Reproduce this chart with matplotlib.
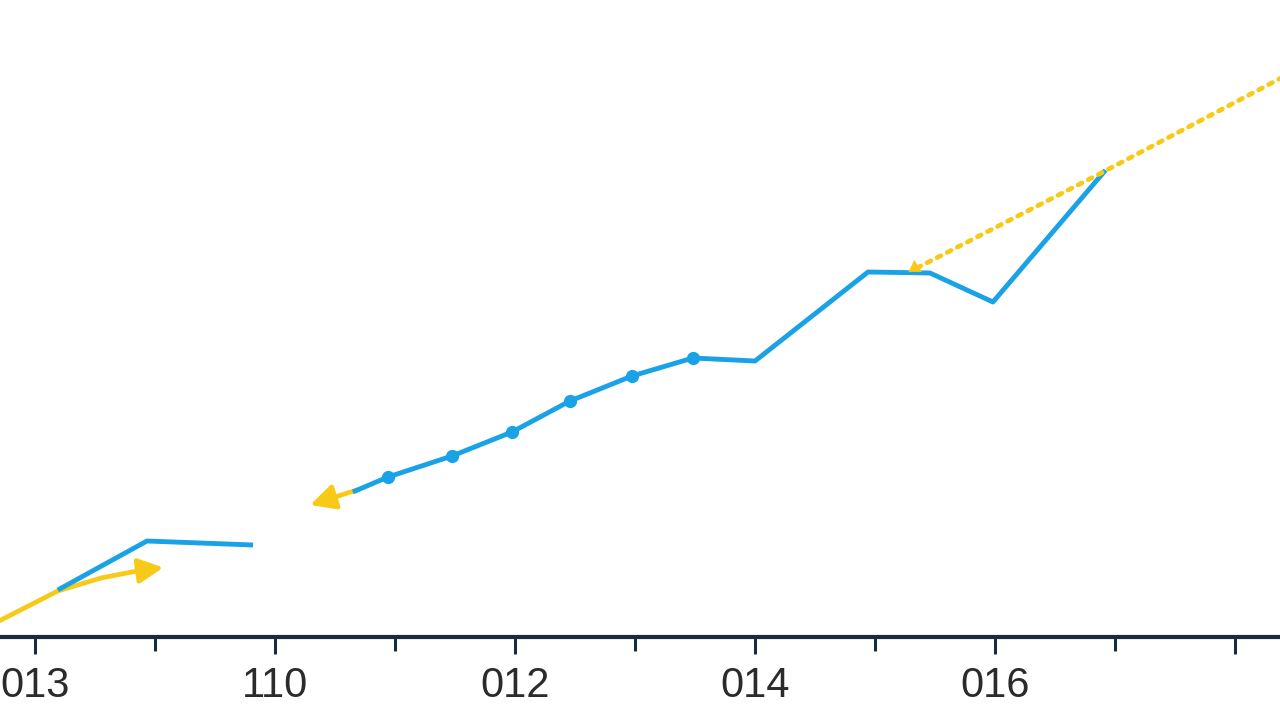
import matplotlib
matplotlib.use("Agg")
import matplotlib.pyplot as plt
from matplotlib import font_manager

# ---- data (x in tick units, y in arbitrary value units) ----
blue_a_x = [0.19, 0.933, 1.817]
blue_a_y = [4.7, 9.6, 9.2]

blue_b_x = [2.667, 2.942, 3.475, 3.975, 4.458, 4.975, 5.483, 6.0, 6.942, 7.458, 7.983, 8.908]
blue_b_y = [14.6, 16.0, 18.1, 20.5, 23.6, 26.1, 27.9, 27.6, 36.5, 36.4, 33.5, 46.5]
blue_b_markers = [1, 2, 3, 4, 5, 6]

yellow_a_x = [-0.3, 0.19, 0.55, 0.85]
yellow_a_y = [1.6, 4.6, 5.9, 6.6]
yellow_a_tip = (1.07, 6.95)

yellow_b_tail = (2.683, 14.7)
yellow_b_tip = (2.292, 13.2)

yellow_c_x = [7.35, 8.917, 10.4]
yellow_c_y = [36.9, 46.6, 56.0]

major_ticks = [0, 2, 4, 6, 8, 10]
major_labels = ["013", "110", "012", "014", "016", ""]
minor_ticks = [1, 3, 5, 7, 9]

BLUE = "#19A3E6"
YELLOW = "#F6CA17"
NAVY = "#1B2A3E"

names = {f.name for f in font_manager.fontManager.ttflist}
tick_family = ["Liberation Sans Narrow", "Liberation Sans", "DejaVu Sans"]
tick_family = [f for f in tick_family if f in names] or ["DejaVu Sans"]

fig = plt.figure(figsize=(12.8, 7.2), dpi=100)
ax = fig.add_axes([0, 83 / 720, 1, 637 / 720])
ax.set_xlim(-35 / 120, 1245 / 120)
ax.set_ylim(0, 63.7)

for s in ["top", "right", "left"]:
    ax.spines[s].set_visible(False)
ax.spines["bottom"].set_color(NAVY)
ax.spines["bottom"].set_linewidth(3.0)
ax.set_yticks([])

ax.set_xticks(major_ticks)
ax.set_xticklabels(major_labels)
ax.set_xticks(minor_ticks, minor=True)
ax.tick_params(axis="x", which="major", length=12, width=2.2, color=NAVY, pad=9,
               labelsize=30, labelcolor="#2b2b2b")
ax.tick_params(axis="x", which="minor", length=10, width=2.2, color=NAVY)
for lab in ax.get_xticklabels():
    lab.set_family(tick_family)

# yellow solid curve with right-pointing arrow
ax.plot(yellow_a_x, yellow_a_y, color=YELLOW, lw=3.4, solid_capstyle="round", zorder=2)
ax.annotate("", xy=yellow_a_tip, xytext=(yellow_a_x[-1], yellow_a_y[-1]),
            arrowprops=dict(arrowstyle="-|>,head_length=1.5,head_width=0.75",
                            color=YELLOW, lw=3.4, shrinkA=0, shrinkB=0), zorder=2)

# blue lines
ax.plot(blue_a_x, blue_a_y, color=BLUE, lw=3.5, solid_capstyle="butt", zorder=3)
ax.plot(blue_b_x, blue_b_y, color=BLUE, lw=3.5, solid_joinstyle="round",
        marker="o", markersize=8.5, markevery=blue_b_markers, zorder=3)

# yellow left arrow at start of blue segment
ax.annotate("", xy=yellow_b_tip, xytext=yellow_b_tail,
            arrowprops=dict(arrowstyle="-|>,head_length=1.5,head_width=0.75",
                            color=YELLOW, lw=3.4, shrinkA=0, shrinkB=0), zorder=2)

# yellow dotted trend line with small arrow head at start
ax.plot(yellow_c_x, yellow_c_y, color=YELLOW, lw=3.4, linestyle=(0, (0.9, 1.5)),
        dash_capstyle="round", zorder=4)
ax.annotate("", xy=(yellow_c_x[0] - 0.07, yellow_c_y[0] - 0.4),
            xytext=(yellow_c_x[0] + 0.1, yellow_c_y[0] + 0.9),
            arrowprops=dict(arrowstyle="-|>,head_length=0.8,head_width=0.5",
                            color=YELLOW, lw=0.1, shrinkA=0, shrinkB=0), zorder=4)

fig.savefig("out.png", dpi=100, facecolor="white")
